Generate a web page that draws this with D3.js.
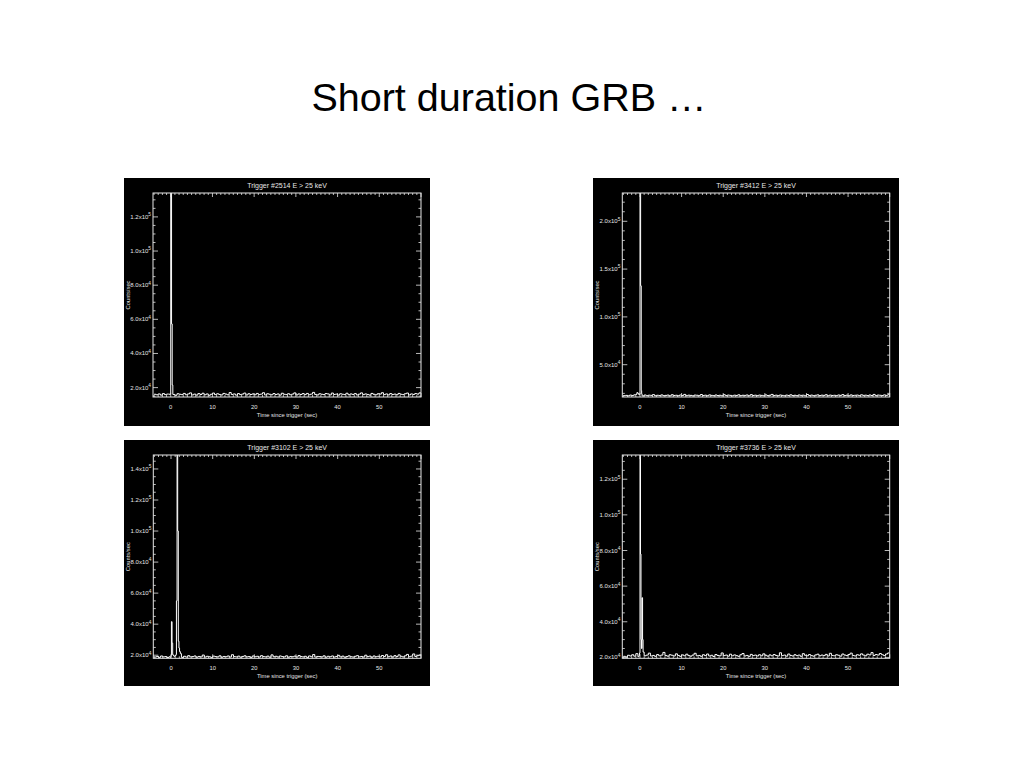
<!DOCTYPE html>
<html>
<head>
<meta charset="utf-8">
<script src="https://cdn.jsdelivr.net/npm/d3@7"></script>
<style>
  html, body { margin: 0; padding: 0; background: #fff; }
  svg { display: block; }
</style>
</head>
<body>
<svg id="chart" width="1024" height="768"></svg>
<script>
// ---------------- DATA ----------------
const pageTitle = "Short duration GRB …";
const panelTitles = ["Trigger #2514 E > 25 keV", "Trigger #3412 E > 25 keV",
                     "Trigger #3102 E > 25 keV", "Trigger #3736 E > 25 keV"];
const xAxisTitle = "Time since trigger (sec)";
const yAxisTitle = "Counts/sec";
const xTickValues = [0, 10, 20, 30, 40, 50];

// background: 0.5 s bins starting at t = -4 s
const bgStart = -4.0;
const bgBin = 0.5;
const bg2514 = [
16100,15800,16300,15600,16500,15900,16200,15700,16800,16000,15500,16400,16100,15900,16600,15800,
16300,16900,15700,16200,15600,16500,16000,16700,15800,16300,15500,16100,16800,15900,16400,16000,
15700,16600,16200,15800,17100,16000,16300,15600,16500,15900,16200,16800,15700,16400,16000,16300,
15800,16600,15900,16200,17000,15700,16400,16100,15800,16500,16000,16300,15600,16700,16100,15900,
16400,15800,16200,16900,15700,16300,16000,16500,15900,16600,15800,16200,17200,16000,15700,16400,
16100,15900,16500,16300,15700,16800,16000,16200,15600,16400,16100,15900,16700,15800,16300,16000,
16500,15700,16200,16900,15900,16300,16000,15600,16600,16100,15800,16400,16200,17000,15900,16300,
15700,16500,16000,16200,15800,16600,16100,15900,16400,16800,15700,16300,16000,16500,16200,16900];
const bg3412 = [
17600,17900,17400,18200,17700,18500,17500,18000,17800,17300,18300,17600,18100,17900,18700,17500,
18000,17700,18400,17600,17900,18200,17400,18600,17800,18000,17500,18300,17700,18900,17600,18100,
17900,17400,18200,18000,17600,18800,17700,18100,17500,18400,17900,17600,18300,17800,18000,17500,
18600,17700,18200,17900,17400,18100,17800,18500,17600,18000,17900,18300,17500,18700,17800,18100,
17600,18200,17900,17500,18400,17800,18000,18900,17700,18100,17600,18300,17900,17500,18200,17800,
18500,17700,18000,17600,18300,17900,18100,17500,18800,17800,18200,17600,18000,18400,17700,18100,
17900,18600,17500,18200,17800,18000,17600,18300,17900,18700,17700,18100,17500,18400,17800,18000,
18200,17600,18500,17900,18100,17700,18300,17800,18900,17600,18200,18000,17700,18400,17900,18600];
const bg3102 = [
18800,19200,18600,19500,18900,19100,18500,19400,19000,18700,19600,18900,19200,18600,19300,18800,
19700,18900,19100,19500,18700,19200,18900,20100,18800,19300,19000,18600,19400,19100,18900,19600,
18700,19200,19000,19500,18800,20300,19100,18900,19400,18700,19200,19600,18900,19100,18600,19500,
19000,19300,18800,19700,19100,18900,19400,18700,20200,19000,19300,18800,19500,19100,18900,19600,
18700,19200,19000,19400,18800,19800,19100,18900,19300,18600,19500,19000,20400,18800,19200,19100,
18900,19600,18700,19300,19000,19500,18800,19200,19900,18900,19400,18700,19100,19600,19000,18800,
19300,19700,18900,19200,18800,20000,19100,19400,18700,19500,19000,19300,18900,19800,19200,20300,
19000,19500,18800,19700,19100,20200,19300,18900,19600,20500,19000,19400,20800,19200,19700,20100];
const bg3736 = [
20600,20300,21200,20800,21500,20700,22100,21000,20500,21700,20900,21300,22400,20800,21100,20600,
21600,20900,21300,22800,21000,20700,21500,21200,20800,22000,21100,20600,21400,20900,21800,21000,
20700,21300,22300,20900,21100,20600,21500,21000,21900,20800,21200,20500,21600,21100,20900,22500,
21000,21300,20700,21800,20900,21400,21000,20600,21500,22200,20800,21100,20600,21700,21000,21300,
20800,21500,20900,22000,21200,20700,21400,20900,21600,21100,20800,22600,21000,21300,20700,21900,
21100,20800,21500,21000,21300,20600,22100,21200,20900,21600,21000,20700,21400,21800,20900,21300,
21000,21700,20800,22300,21100,20900,21500,21200,20700,21900,21300,21000,21600,22400,21100,20800,
21500,21200,22000,21300,20900,21800,21400,22700,21100,21600,21300,22200,21500,21000,21900,22500];

// burst windows: bin start times and counts (finer time resolution)
const burstT2514 = [-0.5,-0.25,-0.1,0,0.2,0.35];
const burstC2514 = [16200,15900,16400,165000,57300,21500];
const burstEnd2514 = 0.5;

const burstT3412 = [-1.0,-0.75,-0.5,-0.25,-0.1,0,0.15,0.3,0.4];
const burstC3412 = [18900,20800,19600,18400,19000,245000,132500,23000,19500];
const burstEnd3412 = 0.5;

const burstT3102 = [-0.5,-0.25,0,0.1,0.25,0.4,0.6,0.8,1.0,1.2,1.3,1.45,1.6,1.75,1.9,2.05,2.25];
const burstC3102 = [19000,18700,20000,41600,27800,20200,19600,19200,19800,20500,55000,160000,100000,29000,24600,22300,21000];
const burstEnd3102 = 2.5;

const burstT3736 = [-0.5,-0.25,-0.1,0,0.12,0.24,0.36,0.48,0.62,0.75];
const burstC3736 = [20400,21000,22500,150000,78000,30000,25000,53500,30000,23000];
const burstEnd3736 = 1.0;

// y axis domains and ticks
const yDomains = [[14500, 134000], [16200, 229600], [18000, 149000], [19500, 133600]];
const yMajorTicks = [
  [20000, 40000, 60000, 80000, 100000, 120000],
  [50000, 100000, 150000, 200000],
  [20000, 40000, 60000, 80000, 100000, 120000, 140000],
  [20000, 40000, 60000, 80000, 100000, 120000]
];
const yTickMantissa = [
  ["2.0", "4.0", "6.0", "8.0", "1.0", "1.2"],
  ["5.0", "1.0", "1.5", "2.0"],
  ["2.0", "4.0", "6.0", "8.0", "1.0", "1.2", "1.4"],
  ["2.0", "4.0", "6.0", "8.0", "1.0", "1.2"]
];
const yTickExponent = [
  ["4", "4", "4", "4", "5", "5"],
  ["4", "5", "5", "5"],
  ["4", "4", "4", "4", "5", "5", "5"],
  ["4", "4", "4", "4", "5", "5"]
];
const yMinorStep = [5000, 10000, 5000, 5000];

const bgSeries = [bg2514, bg3412, bg3102, bg3736];
const burstTs = [burstT2514, burstT3412, burstT3102, burstT3736];
const burstCs = [burstC2514, burstC3412, burstC3102, burstC3736];
const burstEnds = [burstEnd2514, burstEnd3412, burstEnd3102, burstEnd3736];

// ---------------- LAYOUT ----------------
const panels = [
  { box: [124, 178, 306, 248], plot: [153, 193, 421, 397] },
  { box: [593, 178, 306, 248], plot: [622.3, 193, 889.7, 397] },
  { box: [124, 440, 306, 246], plot: [153.3, 455, 421, 658.3] },
  { box: [593, 440, 306, 246], plot: [622.3, 455, 889.7, 658.3] }
];
const xDomain = [-4.25, 60];

const svg = d3.select("#chart");
svg.append("rect").attr("width", 1024).attr("height", 768).attr("fill", "#fff");

svg.append("text")
  .attr("x", 509).attr("y", 111)
  .attr("text-anchor", "middle")
  .attr("font-family", "'Liberation Sans', Arial, sans-serif")
  .attr("font-size", 39.5)
  .attr("fill", "#000")
  .text(pageTitle);

const fg = "#e6e6e6";
const fontF = "'Liberation Sans', Arial, sans-serif";

panels.forEach((p, i) => {
  const [bx, by, bw, bh] = p.box;
  const [l, t, r, b] = p.plot;
  const g = svg.append("g");
  g.append("rect").attr("x", bx).attr("y", by).attr("width", bw).attr("height", bh).attr("fill", "#000");

  const x = d3.scaleLinear().domain(xDomain).range([l, r]);
  const y = d3.scaleLinear().domain(yDomains[i]).range([b, t]);

  // build series
  const bt = burstTs[i], bc = burstCs[i];
  const pts = [];
  bgSeries[i].forEach((v, k) => {
    const tt = bgStart + k * bgBin;
    if (tt < bt[0] || tt >= burstEnds[i]) pts.push([tt, v]);
  });
  bt.forEach((tt, k) => pts.push([tt, bc[k]]));
  pts.sort((a, c) => a[0] - c[0]);
  const last = pts[pts.length - 1];
  pts.push([bgStart + bgSeries[i].length * bgBin, last[1]]);

  const clipId = "clip" + i;
  svg.append("clipPath").attr("id", clipId)
    .append("rect").attr("x", l).attr("y", t).attr("width", r - l).attr("height", b - t);

  const line = d3.line().x(d => x(d[0])).y(d => y(d[1])).curve(d3.curveStepAfter);
  g.append("path").datum(pts)
    .attr("clip-path", `url(#${clipId})`)
    .attr("d", line)
    .attr("fill", "none")
    .attr("stroke", "#fff")
    .attr("stroke-width", 1);

  // frame
  g.append("rect").attr("x", l).attr("y", t).attr("width", r - l).attr("height", b - t)
    .attr("fill", "none").attr("stroke", fg).attr("stroke-width", 1);

  // x ticks (inward, top and bottom)
  const xMinor = d3.range(-4, 61, 1);
  const xMaj = 4, xMin = 2, yMaj = 5, yMin = 2.5;
  xMinor.forEach(v => {
    const major = v % 10 === 0;
    const len = major ? xMaj : xMin;
    g.append("line").attr("x1", x(v)).attr("x2", x(v)).attr("y1", b).attr("y2", b - len)
      .attr("stroke", fg).attr("stroke-width", 0.8);
    g.append("line").attr("x1", x(v)).attr("x2", x(v)).attr("y1", t).attr("y2", t + len)
      .attr("stroke", fg).attr("stroke-width", 0.8);
  });
  xTickValues.forEach(v => {
    g.append("text").attr("x", x(v)).attr("y", b + 11.5)
      .attr("text-anchor", "middle").attr("font-family", fontF).attr("font-size", 5.8)
      .attr("fill", fg).text(String(v));
  });

  // y ticks
  const [y0, y1] = yDomains[i];
  const step = yMinorStep[i];
  const minorVals = d3.range(Math.ceil(y0 / step) * step, y1 + 1, step);
  const majorSet = new Set(yMajorTicks[i]);
  minorVals.forEach(v => {
    const len = majorSet.has(v) ? yMaj : yMin;
    g.append("line").attr("x1", l).attr("x2", l + len).attr("y1", y(v)).attr("y2", y(v))
      .attr("stroke", fg).attr("stroke-width", 0.8);
    g.append("line").attr("x1", r).attr("x2", r - len).attr("y1", y(v)).attr("y2", y(v))
      .attr("stroke", fg).attr("stroke-width", 0.8);
  });
  yMajorTicks[i].forEach((v, k) => {
    const tx = g.append("text").attr("x", l - 2).attr("y", y(v) + 2)
      .attr("text-anchor", "end").attr("font-family", fontF).attr("font-size", 6)
      .attr("fill", fg);
    tx.append("tspan").text(yTickMantissa[i][k] + "x10");
    tx.append("tspan").attr("dy", -2.6).attr("font-size", 4.8).text(yTickExponent[i][k]);
  });

  // titles
  g.append("text").attr("x", (l + r) / 2).attr("y", t - 5)
    .attr("text-anchor", "middle").attr("font-family", fontF).attr("font-size", 7)
    .attr("fill", fg).text(panelTitles[i]);
  g.append("text").attr("x", (l + r) / 2).attr("y", b + 20)
    .attr("text-anchor", "middle").attr("font-family", fontF).attr("font-size", 5.8)
    .attr("fill", fg).text(xAxisTitle);
  g.append("text")
    .attr("transform", `translate(${bx + 6},${(t + b) / 2}) rotate(-90)`)
    .attr("text-anchor", "middle").attr("font-family", fontF).attr("font-size", 5.8)
    .attr("fill", fg).text(yAxisTitle);
});
</script>
</body>
</html>
